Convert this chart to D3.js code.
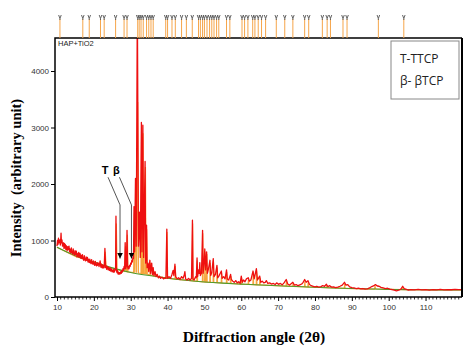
<!DOCTYPE html>
<html>
<head>
<meta charset="utf-8">
<script src="https://cdn.jsdelivr.net/npm/d3@7"></script>
<style>
  body { margin: 0; background: #fff; }
  .tick text { font-family: "Liberation Sans", Arial, sans-serif; font-size: 8px; fill: #333; }
</style>
</head>
<body>
<div id="chart-area"></div>
<script>
// measured pattern (2theta, intensity)
let redPattern = [
  [10.0,900],[10.15,1000],[10.25,930],[10.4,1040],[10.5,960],[10.75,1010],[10.9,920],[11.0,1000],[11.1,1130],[11.2,960],[11.35,1010],[11.5,900],[11.75,960],
  [11.9,860],[12.0,950],[12.15,870],[12.25,930],[12.4,840],[12.5,910],[12.75,820],[12.9,890],[13.0,840],[13.25,900],[13.4,800],[13.5,850],[13.75,780],[13.9,870],[14.0,800],
  [14.25,760],[14.4,850],[14.5,790],[14.75,740],[14.9,820],[15.0,750],[15.25,810],[15.4,710],[15.5,770],[15.75,720],[15.9,790],[16.0,700],[16.25,770],
  [16.4,690],[16.5,740],[16.75,680],[16.9,750],[17.0,690],[17.25,650],[17.4,730],[17.5,670],[17.75,640],[17.9,710],[18.0,650],[18.25,700],[18.4,620],[18.5,670],
  [18.75,610],[18.9,670],[19.0,620],[19.25,590],[19.4,660],[19.5,610],[19.75,580],[19.9,640],[20.0,590],[20.25,560],[20.4,630],[20.5,580],[20.75,550],
  [20.9,610],[21.0,560],[21.25,600],[21.4,540],[21.5,570],[21.7,640],[21.9,530],[22.05,580],[22.2,520],[22.35,570],[22.5,510],[22.65,560],[22.8,520],[23.0,860],
  [23.2,520],[23.35,550],[23.5,490],[23.75,540],[23.9,480],[24.0,520],[24.25,470],[24.4,520],[24.5,460],[24.75,500],[24.9,450],[25.0,480],[25.25,440],
  [25.4,490],[25.5,440],[25.75,480],[25.9,520],[26.0,1430],[26.12,470],[26.3,430],[26.4,470],[26.55,410],[26.7,440],[26.85,400],[27.0,430],[27.15,410],[27.3,450],
  [27.45,420],[27.6,470],[27.75,440],[27.9,500],[28.05,470],[28.2,540],[28.35,500],[28.5,960],[28.65,500],[28.85,560],[29.0,1180],[29.15,540],[29.3,500],[29.4,540],
  [29.55,500],[29.7,560],[29.85,540],[30.0,600],[30.15,580],[30.3,650],[30.45,620],[30.6,700],[30.75,680],[30.9,1600],[31.05,800],[31.3,2100],[31.5,900],[31.8,5200],
  [32.1,900],[32.4,1500],[32.6,700],[32.9,3090],[33.05,800],[33.3,3040],[33.5,700],[33.9,2400],[34.05,600],
  [34.3,1270],[34.45,520],[34.7,600],[34.9,450],[35.2,650],[35.4,420],[35.7,600],[35.9,400],[36.1,520],
  [36.3,380],[36.6,450],[36.9,360],[37.2,400],[37.5,340],[37.8,370],[38.1,330],[38.5,350],[38.9,320],
  [39.3,340],[39.55,330],[39.8,1200],[40.0,330],[40.4,360],[40.8,330],[41.2,400],[41.5,470],[41.7,380],
  [42.0,580],[42.2,360],[42.6,320],[43.0,340],[43.4,310],[43.8,360],[44.2,330],[44.5,380],[44.7,450],
  [44.9,320],[45.3,300],[45.7,330],[46.1,300],[46.5,330],[46.75,1360],[46.9,320],[47.2,300],[47.6,360],
  [47.8,340],[48.0,690],[48.15,360],[48.4,480],[48.6,420],[48.75,610],[48.9,380],[49.2,420],[49.5,1180],
  [49.65,420],[49.9,600],[50.1,850],[50.3,480],[50.6,800],[50.8,420],[51.1,500],[51.5,650],[51.7,380],
  [52.0,430],[52.4,680],[52.6,360],[53.0,400],[53.4,560],[53.6,340],[54.0,380],[54.6,460],[54.8,330],
  [55.2,360],[55.6,320],[56.0,480],[56.2,320],[56.6,300],[57.1,400],[57.3,310],[57.7,280],[58.1,260],
  [58.5,290],[58.9,250],[59.3,270],[59.7,240],[60.0,370],[60.3,260],[60.6,300],[61.0,270],[61.4,320],
  [61.9,340],[62.2,280],[62.6,300],[63.2,460],[63.5,320],[64.1,500],[64.4,300],[65.0,370],[65.3,260],
  [65.7,280],[66.1,250],[66.5,260],[66.8,290],[67.2,240],[67.7,250],[68.2,230],[68.7,240],[69.2,220],
  [69.6,250],[70.1,225],[70.6,240],[71.1,215],[71.6,250],[72.2,310],[72.6,230],[73.1,210],[73.6,240],
  [74.0,260],[74.4,210],[74.9,220],[75.4,200],[75.9,215],[76.4,230],[76.8,260],[77.2,310],[77.6,260],
  [78.1,290],[78.5,220],[79.0,200],[79.5,190],[80.0,180],[80.5,190],[81.0,175],[81.6,185],[82.1,200],
  [82.6,190],[83.1,225],[83.5,185],[84.0,200],[84.5,175],[85.0,180],[85.6,165],[86.2,175],[86.8,190],
  [87.4,210],[88.0,260],[88.4,210],[88.9,220],[89.4,180],[90.0,165],[90.6,160],[91.2,150],[91.8,155],
  [92.4,145],[93.0,150],[93.6,140],[94.2,145],[94.8,160],[95.4,185],[96.0,200],[96.4,220],[96.9,195],
  [97.4,190],[97.9,170],[98.5,160],[99.1,150],[99.7,155],[100.3,140],[100.9,130],[101.5,120],[102.1,110],
  [102.7,120],[103.3,140],[103.8,190],[104.2,150],[104.8,135],[105.4,120],[106,130],[107,125],[108,135],
  [109,125],[110,130],[111,120],[112,130],[113,125],[114,135],[115,125],[116,130],[117,128],[118,135],
  [119,130],[120,130]
];

// fitted profile (orange), sits on the background between peaks
let orangePattern = [
  [10,880],[15,720],[20,620],[21.6,585],[21.8,600],[22.0,580],[22.9,550],[23.1,800],[23.3,545],
  [25.9,495],[26.1,1300],[26.3,490],[28.4,452],[28.6,900],[28.8,450],[28.95,448],[29.1,1100],[29.25,446],
  [30.8,433],[31.0,1500],[31.15,431],[31.4,2000],[31.6,428],[31.9,3450],[32.1,425],[32.8,418],[32.95,2950],
  [33.1,416],[33.2,415],[33.35,2900],[33.5,413],[33.85,410],[34.0,2300],[34.15,408],[34.25,407],[34.35,1200],
  [34.5,405],[35.2,385],[35.3,600],[35.4,383],[39.75,333],[39.85,1150],[39.95,332],[42.0,316],[42.1,550],
  [42.2,315],[46.7,285],[46.8,1300],[46.9,284],[47.95,279],[48.05,650],[48.15,278],[49.45,270],[49.55,1130],
  [49.65,269],[50.05,265],[50.15,800],[50.25,265],[50.55,264],[50.65,760],[50.75,263],[51.45,261],[51.55,600],
  [51.65,260],[52.35,257],[52.45,640],[52.55,257],[53.35,254],[53.45,520],[53.55,253],[54.55,249],[54.65,420],
  [54.75,248],[55.95,243],[56.05,440],[56.15,243],[57.05,240],[57.15,370],[57.25,240],[59.95,229],[60.05,340],
  [60.15,228],[61.85,223],[61.95,310],[62.05,223],[63.15,219],[63.25,430],[63.35,219],[64.05,216],[64.15,470],
  [64.25,216],[64.95,213],[65.05,340],[65.15,213],[72.15,193],[72.25,280],[72.35,193],[73.95,188],[74.05,240],
  [74.15,188],[77.15,180],[77.25,280],[77.35,180],[78.05,177],[78.15,260],[78.25,177],[83.05,164],[83.15,200],
  [83.25,164],[87.95,153],[88.05,230],[88.15,153],[96.1,141],[96.3,190],[96.5,141],[103.75,131],[103.85,170],
  [103.95,131],[120,124]
];

// background fit (green)
let greenBaseline = [
  [10,880],[15,720],[20,620],[25,510],[30,430],[35,380],[40,330],[45,295],[50,265],[55,245],[60,228],
  [65,212],[70,198],[75,185],[80,172],[85,160],[90,150],[95,142],[100,135],[105,130],[110,127],[115,125],[120,124]
];

// reference peak positions (top markers)
let refPeaks = [10.8,17.0,18.75,21.8,22.8,25.9,28.2,29.0,31.9,32.3,32.8,33.4,34.3,34.9,35.5,36.1,
  39.5,40.0,41.2,42.1,43.8,45.1,46.7,48.4,48.9,49.5,50.0,50.7,51.4,52.0,52.6,53.3,53.9,56.0,56.9,
  60.2,60.9,61.8,63.1,63.7,64.6,65.5,66.6,69.5,71.8,74.0,77.2,78.3,82.0,83.3,84.2,87.6,88.7,97.2,104.1];

let xTicks = [10,20,30,40,50,60,70,80,90,100,110];
let yTicks = [0,1000,2000,3000,4000];
let legendLines = ["T-TTCP", "\u03b2- \u03b2TCP"];
let arrows = [
  {label: "T", at: 27.1},
  {label: "\u03b2", at: 30.2}
];

let W = 474, H = 353;
let frame = {left: 55, right: 462, top: 38, bottom: 297};

let svg = d3.select("#chart-area")
            .append("svg")
            .attr("width", W)
            .attr("height", H);

let x = d3.scaleLinear()
          .domain([10, 120])
          .range([57, 462.4]);
let y = d3.scaleLinear()
          .domain([0, 4000])
          .range([297, 71]);

svg.append("clipPath")
    .attr("id", "plotclip")
    .append("rect")
    .attr("x", frame.left)
    .attr("y", frame.top)
    .attr("width", frame.right - frame.left)
    .attr("height", frame.bottom - frame.top);

let line = d3.line()
             .x(function(d){ return x(d[0]); })
             .y(function(d){ return y(d[1]); });
let smooth = d3.line()
             .x(function(d){ return x(d[0]); })
             .y(function(d){ return y(d[1]); })
             .curve(d3.curveBasis);

let plot = svg.append("g").attr("clip-path", "url(#plotclip)");

plot.append("path")
    .datum(orangePattern)
    .attr("d", line)
    .attr("fill", "none")
    .attr("stroke", "#f7a53c")
    .attr("stroke-width", 1.2);

// background curve
plot.append("path")
    .datum(greenBaseline)
    .attr("d", smooth)
    .attr("fill", "none")
    .attr("stroke", "#4f9a2c")
    .attr("stroke-width", 1.1);

plot.append("path")
    .datum(redPattern)
    .attr("d", line)
    .attr("fill", "none")
    .attr("stroke", "#ee1010")
    .attr("stroke-width", 1.3)
    .attr("stroke-linejoin", "round");

// frame
svg.append("path")
    .attr("d", "M" + frame.left + "," + frame.bottom + "V" + frame.top + "H" + frame.right)
    .attr("fill", "none")
    .attr("stroke", "#000")
    .attr("stroke-width", 1.5);
svg.append("line")
    .attr("x1", frame.right).attr("x2", frame.right)
    .attr("y1", frame.top).attr("y2", frame.bottom)
    .attr("stroke", "#000")
    .attr("stroke-width", 2);

// x axis
let xAxis = d3.axisBottom(x)
              .tickValues(xTicks)
              .tickSize(4)
              .tickPadding(3);
let gx = svg.append("g")
    .attr("class", "x axis")
    .attr("transform", "translate(0," + frame.bottom + ")")
    .call(xAxis);
gx.select(".domain")
    .attr("d", "M" + frame.left + ",0H" + frame.right)
    .attr("stroke-width", 1.5);

let minor = d3.range(11, 120).filter(function(d){ return d % 10 !== 0; });
svg.append("g")
    .attr("transform", "translate(0," + frame.bottom + ")")
    .selectAll("line")
    .data(minor)
    .enter()
    .append("line")
    .attr("x1", function(d){ return x(d); })
    .attr("x2", function(d){ return x(d); })
    .attr("y1", 0)
    .attr("y2", 2.5)
    .attr("stroke", "#000")
    .attr("stroke-width", 0.8);

// y axis
let yAxis = d3.axisLeft(y)
              .tickValues(yTicks)
              .tickFormat(d3.format("d"))
              .tickSize(4)
              .tickPadding(2);
let gy = svg.append("g")
    .attr("class", "y axis")
    .attr("transform", "translate(" + frame.left + ",0)")
    .call(yAxis);
gy.select(".domain").remove();

// axis titles
svg.append("text")
    .text("Diffraction angle (2\u03b8)")
    .attr("x", 254)
    .attr("y", 342)
    .attr("text-anchor", "middle")
    .attr("font-family", "Liberation Serif, Times New Roman, serif")
    .attr("font-weight", "bold")
    .attr("font-size", "15.5px");

svg.append("text")
    .text("Intensity  (arbitrary unit)")
    .attr("transform", "translate(21,178) rotate(-90)")
    .attr("text-anchor", "middle")
    .attr("font-family", "Liberation Serif, Times New Roman, serif")
    .attr("font-weight", "bold")
    .attr("font-size", "14.5px")
    .style("white-space", "pre");

svg.append("text")
    .text("HAP+TiO2")
    .attr("x", 58)
    .attr("y", 46)
    .attr("font-family", "Liberation Sans, Arial, sans-serif")
    .attr("font-size", "7.5px")
    .attr("fill", "#222");

// reference markers on top
let mk = svg.append("g").selectAll("g")
    .data(refPeaks)
    .enter()
    .append("g")
    .attr("transform", function(d){ return "translate(" + x(d) + ",0)"; });
mk.append("line")
    .attr("y1", 19)
    .attr("y2", frame.top)
    .attr("stroke", "#f5a54a")
    .attr("stroke-width", 1);
mk.append("path")
    .attr("d", "M-1.3,15L0,18.5L1.3,15M0,18.5V20")
    .attr("fill", "none")
    .attr("stroke", "#555")
    .attr("stroke-width", 0.9);

// legend box
svg.append("rect")
    .attr("x", 391)
    .attr("y", 41)
    .attr("width", 68)
    .attr("height", 58)
    .attr("fill", "#fff")
    .attr("stroke", "#888")
    .attr("stroke-width", 1);
svg.selectAll(".legend-text")
    .data(legendLines)
    .enter()
    .append("text")
    .attr("class", "legend-text")
    .text(function(d){ return d; })
    .attr("x", 400)
    .attr("y", function(d, i){ return 63 + i * 22; })
    .attr("font-family", "Open Sans, sans-serif")
    .attr("font-size", "12px")
    .attr("fill", "#222");

// phase arrows
svg.append("defs").append("marker")
    .attr("id", "head")
    .attr("viewBox", "0 0 10 10")
    .attr("refX", 10)
    .attr("refY", 5)
    .attr("markerWidth", 6)
    .attr("markerHeight", 6)
    .attr("orient", "auto")
    .append("path")
    .attr("d", "M0,0L10,5L0,10z")
    .attr("fill", "#000");

let ar = svg.append("g").selectAll("g")
    .data(arrows)
    .enter()
    .append("g");
ar.append("path")
    .attr("d", function(d){
        let px = x(d.at);
        return "M" + (px - 12) + "," + y(2120) + "L" + px + "," + y(1630) + "V" + y(680);
    })
    .attr("fill", "none")
    .attr("stroke", "#555")
    .attr("stroke-width", 1)
    .attr("marker-end", "url(#head)");
ar.append("text")
    .text(function(d){ return d.label; })
    .attr("x", function(d){ return x(d.at) - 15; })
    .attr("y", y(2180))
    .attr("text-anchor", "middle")
    .attr("font-family", "Liberation Sans, Arial, sans-serif")
    .attr("font-weight", "bold")
    .attr("font-size", "11px");
</script>
</body>
</html>
